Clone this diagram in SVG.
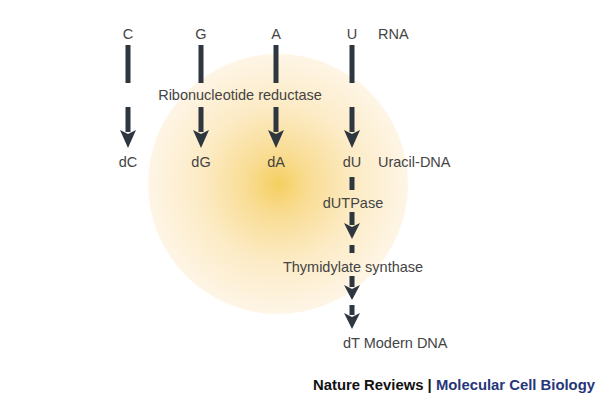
<svg xmlns="http://www.w3.org/2000/svg" width="600" height="402" viewBox="0 0 600 402">
<defs>
<radialGradient id="glow" cx="278" cy="184" r="130" gradientUnits="userSpaceOnUse">
<stop offset="0" stop-color="#f5cf60"/>
<stop offset="0.25" stop-color="#f9dd95"/>
<stop offset="0.6" stop-color="#fcebc5"/>
<stop offset="1" stop-color="#fef5e6"/>
</radialGradient>
<style>
.t{font-family:"Liberation Sans",Arial,sans-serif;font-size:14.5px;fill:#444444;}
.c{text-anchor:middle;}
.bar{fill:#2e3740;}
.hd{fill:#2e3740;}
.f{font-family:"Liberation Sans",Arial,sans-serif;font-size:14px;font-weight:bold;}
</style>
</defs>
<rect width="600" height="402" fill="#ffffff"/>
<circle cx="278" cy="184" r="130" fill="url(#glow)"/>

<g id="connectors">
<rect class="bar" x="125.5" y="45" width="5" height="38"/>
<rect class="bar" x="198.5" y="45" width="5" height="38"/>
<rect class="bar" x="273.5" y="45" width="5" height="38"/>
<rect class="bar" x="349.5" y="45" width="5" height="38"/>
<rect class="bar" x="125.5" y="107" width="5" height="25"/>
<polygon class="hd" points="120,130 128,148 136,130 128,134"/>
<rect class="bar" x="198.5" y="107" width="5" height="25"/>
<polygon class="hd" points="193,130 201,148 209,130 201,134"/>
<rect class="bar" x="273.5" y="107" width="5" height="25"/>
<polygon class="hd" points="268,130 276,148 284,130 276,134"/>
<rect class="bar" x="349.5" y="107" width="5" height="25"/>
<polygon class="hd" points="344,130 352,148 360,130 352,134"/>
<rect class="bar" x="349.5" y="177" width="5" height="13"/>
<rect class="bar" x="349.5" y="212" width="5" height="13"/>
<polygon class="hd" points="344,223 352,239 360,223 352,227"/>
<rect class="bar" x="349.5" y="245" width="5" height="8"/>
<rect class="bar" x="349.5" y="276" width="5" height="11"/>
<polygon class="hd" points="344,285 352,300 360,285 352,289"/>
<rect class="bar" x="349.5" y="305" width="5" height="10"/>
<polygon class="hd" points="344,313 352,329 360,313 352,317"/>
</g>

<g id="C"><text class="t c" x="128" y="39">C</text></g>
<g id="G"><text class="t c" x="201" y="39">G</text></g>
<g id="A"><text class="t c" x="276" y="39">A</text></g>
<g id="U"><text class="t c" x="352" y="39">U</text></g>
<g id="RNA"><text class="t" x="378" y="39">RNA</text></g>
<g id="rnr"><text class="t c" x="240" y="100">Ribonucleotide reductase</text></g>
<g id="dC"><text class="t c" x="128" y="167">dC</text></g>
<g id="dG"><text class="t c" x="201" y="167">dG</text></g>
<g id="dA"><text class="t c" x="276" y="167">dA</text></g>
<g id="dU"><text class="t c" x="352" y="167">dU</text></g>
<g id="uracilDNA"><text class="t" x="378" y="167">Uracil-DNA</text></g>
<g id="dUTPase"><text class="t c" x="353" y="208">dUTPase</text></g>
<g id="ts"><text class="t c" x="353" y="272">Thymidylate synthase</text></g>
<g id="dT"><text class="t" x="343" y="348">dT Modern DNA</text></g>

<g id="footer"><text class="f" x="313" y="390" textLength="282" lengthAdjust="spacingAndGlyphs"><tspan fill="#111111">Nature Reviews | </tspan><tspan fill="#27367a">Molecular Cell Biology</tspan></text></g>
</svg>
